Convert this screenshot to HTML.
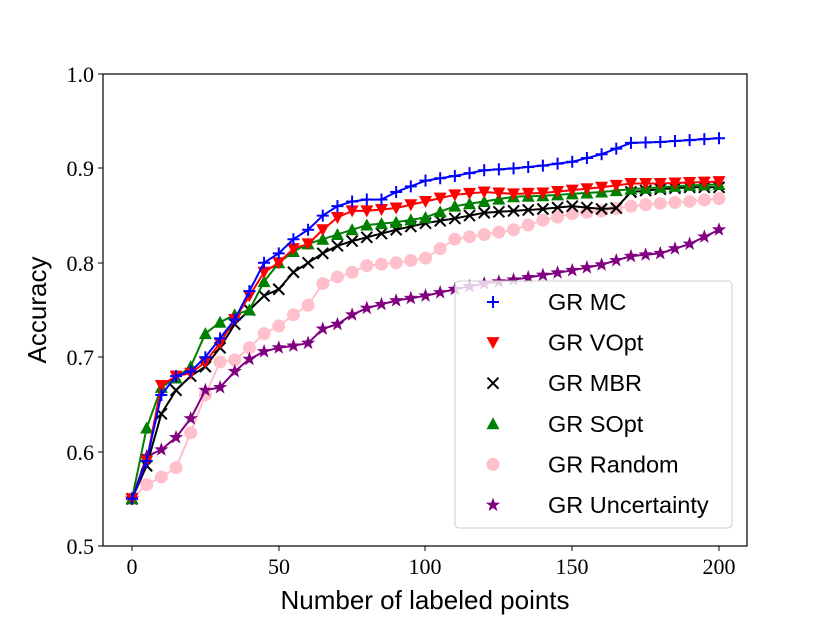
<!DOCTYPE html>
<html><head><meta charset="utf-8"><style>body{margin:0;background:#fff}svg{display:block}</style></head>
<body>
<svg id="s" width="830" height="623" xmlns="http://www.w3.org/2000/svg" font-family="Liberation Serif, serif">
<rect width="830" height="623" fill="#fff"/>
<g id="plot"></g>
<rect x="103" y="74" width="644" height="472" fill="none" stroke="#000" stroke-width="1.2"/>
<g font-size="22" text-anchor="middle">
<text x="132" y="574">0</text><text x="279" y="574">50</text><text x="425" y="574">100</text><text x="572" y="574">150</text><text x="719" y="574">200</text>
</g>
<g stroke="#000" stroke-width="1">
<line x1="132" y1="546" x2="132" y2="551"/><line x1="279" y1="546" x2="279" y2="551"/><line x1="425" y1="546" x2="425" y2="551"/><line x1="572" y1="546" x2="572" y2="551"/><line x1="719" y1="546" x2="719" y2="551"/>
<line x1="98" y1="74" x2="103" y2="74"/><line x1="98" y1="168" x2="103" y2="168"/><line x1="98" y1="263" x2="103" y2="263"/><line x1="98" y1="357" x2="103" y2="357"/><line x1="98" y1="452" x2="103" y2="452"/><line x1="98" y1="546" x2="103" y2="546"/>
</g>
<g font-size="22" text-anchor="end">
<text x="94" y="82">1.0</text><text x="94" y="176">0.9</text><text x="94" y="271">0.8</text><text x="94" y="365">0.7</text><text x="94" y="460">0.6</text><text x="94" y="554">0.5</text>
</g>
<text x="425" y="609" font-size="26" text-anchor="middle" font-family="Liberation Sans, sans-serif">Number of labeled points</text>
<text transform="translate(46,310) rotate(-90)" font-size="26" text-anchor="middle" font-family="Liberation Sans, sans-serif">Accuracy</text>
<rect x="455" y="281" width="277" height="247" rx="4" fill="rgba(255,255,255,0.8)" stroke="#ccc"/>
<g id="leg" font-size="23.5" font-family="Liberation Sans, sans-serif"></g>
</svg>
<script>
const X=v=>132+v*2.935, Y=v=>546-(v-0.5)*944;
const S=[
["blue","plus","GR MC",[[0,.55],[5,.59],[10,.66],[15,.68],[20,.685],[25,.70],[30,.72],[35,.74],[40,.77],[45,.80],[50,.81],[55,.825],[60,.835],[65,.85],[70,.86],[75,.865],[80,.867],[85,.867],[90,.875],[100,.887],[110,.892],[120,.898],[130,.900],[140,.903],[150,.907],[160,.915],[170,.927],[180,.928],[190,.930],[200,.932]]],
["red","vdown","GR VOpt",[[0,.55],[5,.59],[10,.67],[15,.68],[20,.683],[25,.695],[30,.715],[35,.74],[40,.765],[45,.79],[50,.80],[55,.815],[60,.82],[65,.835],[70,.848],[75,.855],[80,.855],[90,.858],[100,.865],[110,.872],[120,.875],[130,.873],[140,.874],[150,.877],[160,.88],[170,.884],[180,.884],[190,.885],[200,.886]]],
["black","x","GR MBR",[[0,.55],[5,.585],[10,.64],[15,.665],[20,.68],[25,.69],[30,.71],[35,.735],[40,.75],[45,.765],[50,.772],[55,.79],[60,.80],[65,.81],[70,.818],[75,.823],[80,.827],[90,.835],[100,.842],[110,.847],[120,.853],[130,.855],[140,.857],[150,.86],[160,.857],[165,.858],[170,.875],[180,.878],[190,.88],[200,.88]]],
["green","vup","GR SOpt",[[0,.55],[5,.625],[10,.668],[15,.678],[20,.69],[25,.725],[30,.737],[35,.745],[40,.75],[45,.78],[50,.8],[55,.812],[60,.82],[65,.825],[70,.83],[75,.835],[80,.84],[90,.843],[100,.848],[110,.86],[120,.865],[130,.87],[140,.871],[150,.873],[160,.875],[170,.878],[180,.88],[190,.882],[200,.883]]],
["pink","o","GR Random",[[0,.55],[5,.565],[10,.573],[15,.583],[20,.62],[25,.66],[30,.695],[35,.697],[40,.71],[45,.725],[50,.733],[55,.745],[60,.755],[65,.778],[70,.785],[75,.79],[80,.797],[90,.80],[100,.805],[110,.825],[120,.83],[130,.835],[140,.845],[150,.852],[160,.855],[170,.86],[180,.863],[190,.865],[200,.868]]],
["purple","star","GR Uncertainty",[[0,.55],[5,.595],[10,.602],[15,.615],[20,.635],[25,.665],[30,.668],[35,.685],[40,.698],[45,.706],[50,.71],[55,.712],[60,.715],[65,.73],[70,.735],[75,.745],[80,.752],[90,.76],[100,.765],[110,.772],[120,.778],[130,.782],[140,.787],[150,.792],[160,.798],[170,.807],[180,.81],[190,.82],[200,.835]]]
];
function interp(p,x){for(let i=1;i<p.length;i++){if(x<=p[i][0]){const a=p[i-1],b=p[i];return a[1]+(b[1]-a[1])*(x-a[0])/(b[0]-a[0]);}}return p[p.length-1][1];}
function mk(t,c,x,y){
 if(t=="plus")return `<path d="M${x-6},${y}h12M${x},${y-6}v12" stroke="${c}" stroke-width="2"/>`;
 if(t=="x")return `<path d="M${x-5.5},${y-5.5}l11,11M${x-5.5},${y+5.5}l11,-11" stroke="${c}" stroke-width="2"/>`;
 if(t=="vdown")return `<polygon points="${x-6.5},${y-5.5} ${x+6.5},${y-5.5} ${x},${y+6.5}" fill="${c}"/>`;
 if(t=="vup")return `<polygon points="${x-6.5},${y+5.5} ${x+6.5},${y+5.5} ${x},${y-6.5}" fill="${c}"/>`;
 if(t=="o")return `<circle cx="${x}" cy="${y}" r="6.5" fill="${c}"/>`;
 let s="";for(let i=0;i<10;i++){const r=i%2?3:7.5,a=-Math.PI/2+i*Math.PI/5;s+=(x+r*Math.cos(a)).toFixed(1)+","+(y+r*Math.sin(a)).toFixed(1)+" ";}
 return `<polygon points="${s}" fill="${c}"/>`;
}
let h="";
for(const [c,t,n,p] of [S[4],S[5],S[2],S[3],S[1],S[0]]){
 let pts=[];for(let x=0;x<=200;x++)pts.push(X(x).toFixed(1)+","+Y(interp(p,x)).toFixed(1));
 h+=`<polyline points="${pts.join(" ")}" fill="none" stroke="${c}" stroke-width="2"/>`;
 for(let x=0;x<=200;x+=5)h+=mk(t,c,X(x),Y(interp(p,x)));
}
document.getElementById("plot").innerHTML=h;
let l="";S.forEach((s,i)=>{const y=302+i*40.6;l+=mk(s[1],s[0],493,y)+`<text x="548" y="${y+8}">${s[2]}</text>`;});
document.getElementById("leg").innerHTML=l;
</script>
</body></html>
